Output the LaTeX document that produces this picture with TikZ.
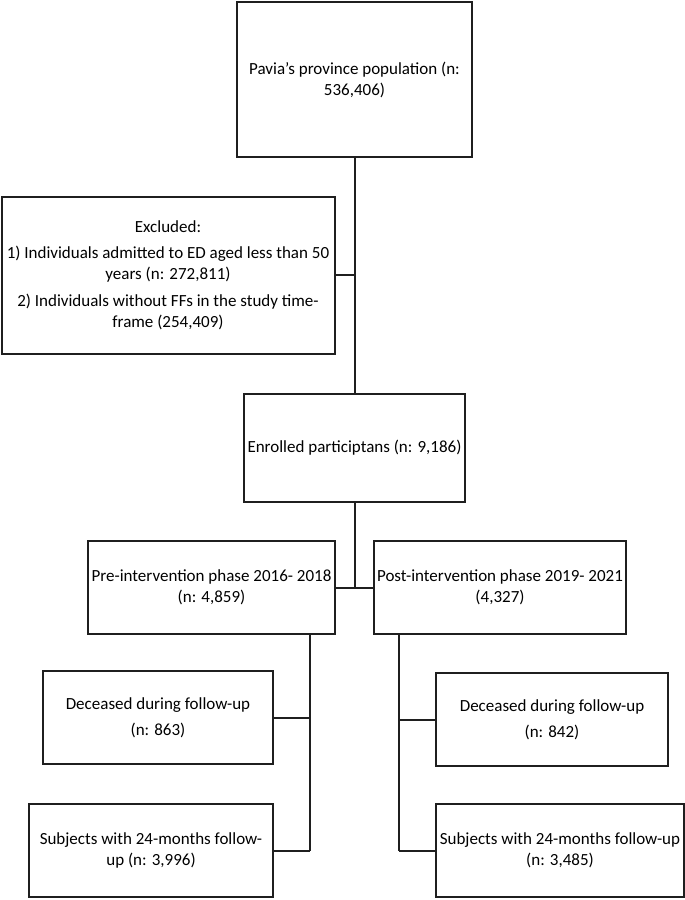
\documentclass[tikz,border=0pt]{standalone}
\usepackage{fontspec}
\setmainfont{Carlito}
\begin{document}
\begin{tikzpicture}[x=1pt,y=-1pt,
  box/.style={draw=black!88, line width=2pt, rectangle, inner sep=0pt, align=center,
    font=\fontsize{17}{21}\selectfont},
  conn/.style={draw=black!88, line width=2pt}]
\useasboundingbox (0,0) rectangle (685,900);
\node[box, minimum width=235pt, minimum height=155pt] (pavia) at (354.5,79.5)
  {Pavia's province population (n:\\536,406)};
\node[box, minimum width=333pt, minimum height=157pt] (excl) at (168,275)
  {Excluded:\\[5pt]1) Individuals admitted to ED aged less than 50\\years (n: 272,811)\\[6pt]2) Individuals without FFs in the study time-\\frame (254,409)};
\node[box, minimum width=221pt, minimum height=108pt] (enr) at (354.5,448)
  {Enrolled participtans (n: 9,186)};
\node[box, minimum width=247pt, minimum height=93pt] (pre) at (211.5,587.5)
  {Pre-intervention phase 2016- 2018\\(n: 4,859)};
\node[box, minimum width=252pt, minimum height=93pt] (post) at (500,587.5)
  {Post-intervention phase 2019- 2021\\(4,327)};
\node[box, minimum width=230pt, minimum height=93pt] (decL) at (158,717.5)
  {Deceased during follow-up\\[5pt](n: 863)};
\node[box, minimum width=244pt, minimum height=93pt] (subL) at (151,850.5)
  {Subjects with 24-months follow-\\up (n: 3,996)};
\node[box, minimum width=232pt, minimum height=93pt] (decR) at (552,719.5)
  {Deceased during follow-up\\[5pt](n: 842)};
\node[box, minimum width=248pt, minimum height=93pt] (subR) at (560,850.5)
  {Subjects with 24-months follow-up\\(n: 3,485)};
\coordinate (sL) at (310,851);
\coordinate (sR) at (399,851);
\draw[conn] (pavia.south) -- (enr.north);
\draw[conn] (excl.east) -- (excl.east -| pavia.south);
\draw[conn] (enr.south) -- (enr.south |- pre.east);
\draw[conn] (pre.east) -- (post.west);
\draw[conn] (pre.south -| sL) -- (sL);
\draw[conn] (decL.east) -- (decL.east -| sL);
\draw[conn] (subL.east |- sL) -- (sL);
\draw[conn] (post.south -| sR) -- (sR);
\draw[conn] (decR.west) -- (decR.west -| sR);
\draw[conn] (subR.west |- sR) -- (sR);
\end{tikzpicture}
\end{document}
